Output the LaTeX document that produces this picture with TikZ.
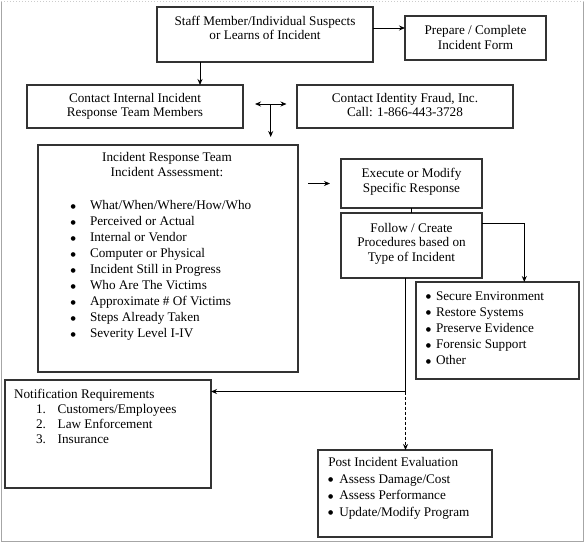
\documentclass[tikz,border=0pt]{standalone}
\usepackage{fontspec}
\setmainfont{Liberation Serif}
\newfontfamily\dvsans{DejaVu Sans}
\usetikzlibrary{arrows.meta}
\newcommand{\lns}[2]{\begin{tabular}[t]{@{}#1@{}}#2\end{tabular}}
\newcommand{\bul}[1]{\makebox[#1][l]{\raisebox{1.4pt}{\dvsans\fontsize{6}{6}\selectfont ●}}}
\begin{document}
\begin{tikzpicture}[x=1pt,y=-1pt,
  box/.style={draw=black!80, line width=1.1pt, inner sep=0pt, outer sep=0pt},
  tx/.style={inner sep=0pt, outer sep=0pt, font=\fontsize{13.2}{14.6}\selectfont},
  lst/.style={inner sep=0pt, outer sep=0pt, font=\fontsize{13.2}{16}\selectfont},
  conn/.style={line width=0.9pt, black},
  arr/.style={conn, -{Stealth[length=6pt,width=5pt]}},
  darr/.style={conn, {Stealth[length=6pt,width=5pt]}-{Stealth[length=6pt,width=5pt]}},
]
\useasboundingbox (0,0) rectangle (585,542);
% outer frame
\draw[gray!70, line width=1pt] (1,1) -- (1,541) -- (583.3,541) -- (583.3,1);
\draw[gray!40, dotted, line width=1pt] (1,1) -- (583.3,1);

% boxes
\node[box, minimum width=216pt, minimum height=55pt] (staff) at (265,34.5) {};
\node[box, minimum width=141pt, minimum height=44pt] (prepare) at (475.5,38) {};
\node[box, minimum width=216pt, minimum height=43pt] (internal) at (135,106.5) {};
\node[box, minimum width=216pt, minimum height=43pt] (identity) at (405,106.5) {};
\node[box, minimum width=260pt, minimum height=227pt] (irt) at (168,258.5) {};
\node[box, minimum width=141pt, minimum height=49pt] (exec) at (411.5,183.5) {};
\node[box, minimum width=141pt, minimum height=65pt] (follow) at (411.5,245.5) {};
\node[box, minimum width=163pt, minimum height=97pt] (secure) at (497.5,330.5) {};
\node[box, minimum width=206pt, minimum height=108pt] (notif) at (108,434) {};
\node[box, minimum width=174pt, minimum height=87pt] (post) at (405,493.5) {};

% texts
\node[tx, anchor=base] (staffT) at (265,25.2) {\lns{c}{Staff Member/Individual Suspects\\or Learns of Incident}};
\node[tx, anchor=base] (prepareT) at (475.5,34.5) {\lns{c}{Prepare / Complete\\Incident Form}};
\node[tx, anchor=base] (internalT) at (135,102) {\lns{c}{Contact Internal Incident\\Response Team Members}};
\node[tx, anchor=base] (identityT) at (405,102.2) {\lns{c}{Contact Identity Fraud, Inc.\\Call: 1-866-443-3728}};
\node[tx, font=\fontsize{13.2}{15}\selectfont, anchor=base] (irtT) at (167,161.8) {\lns{c}{Incident Response Team\\Incident Assessment:}};
\node[lst, anchor=base west] (irtL) at (70.5,209.5) {\lns{l}{%
\bul{19.5pt}What/When/Where/How/Who\\
\bul{19.5pt}Perceived or Actual\\
\bul{19.5pt}Internal or Vendor\\
\bul{19.5pt}Computer or Physical\\
\bul{19.5pt}Incident Still in Progress\\
\bul{19.5pt}Who Are The Victims\\
\bul{19.5pt}Approximate \# Of Victims\\
\bul{19.5pt}Steps Already Taken\\
\bul{19.5pt}Severity Level I-IV}};
\node[tx, font=\fontsize{13.2}{15.6}\selectfont, anchor=base] (execT) at (411.5,177.2) {\lns{c}{Execute or Modify\\Specific Response}};
\node[tx, anchor=base] (followT) at (411.5,232.2) {\lns{c}{Follow / Create\\Procedures based on\\Type of Incident}};
\node[lst, font=\fontsize{13.2}{16.1}\selectfont, anchor=base west] (secureL) at (425.8,300.2) {\lns{l}{%
\bul{10.2pt}Secure Environment\\
\bul{10.2pt}Restore Systems\\
\bul{10.2pt}Preserve Evidence\\
\bul{10.2pt}Forensic Support\\
\bul{10.2pt}Other}};
\node[tx, font=\fontsize{13.2}{15}\selectfont, anchor=base west] (notifT) at (14,398.5) {\lns{l}{%
Notification Requirements\\
\makebox[22pt][l]{}\makebox[21.7pt][l]{1.}Customers/Employees\\
\makebox[22pt][l]{}\makebox[21.7pt][l]{2.}Law Enforcement\\
\makebox[22pt][l]{}\makebox[21.7pt][l]{3.}Insurance}};
\node[tx, font=\fontsize{13.2}{16.5}\selectfont, anchor=base west] (postT) at (328,466.8) {\lns{l}{%
\hspace{0.3pt}Post Incident Evaluation\\
\bul{11.3pt}Assess Damage/Cost\\
\bul{11.3pt}Assess Performance\\
\bul{11.3pt}Update/Modify Program}};

% helper coordinates
\coordinate (yA) at (0,28);
\coordinate (xA) at (200,0);
\coordinate (dL) at (255,104);
\coordinate (dM) at (270.7,104);
\coordinate (dR) at (286.5,104);
\coordinate (dB) at (270.7,137);
\coordinate (yC) at (0,223.3);
\coordinate (xC) at (524.3,0);
\coordinate (xD) at (405.5,0);
\coordinate (yD) at (0,391.5);

% connectors
\draw[arr] (staff.east |- yA) -- (prepare.west |- yA);
\draw[arr] (staff.south -| xA) -- (internal.north -| xA);
\draw[darr] (dL) -- (dR);
\draw[arr] (dM) -- (dB);
\draw[arr] ([xshift=10pt]irt.east |- exec.west) -- ([xshift=-11pt]exec.west);
\draw[conn] (exec.south) -- (follow.north);
\draw[arr] (follow.east |- yC) -| (secure.north -| xC);
\draw[arr] (follow.south -| xD) |- (notif.east |- yD);
\draw[arr, dash pattern=on 3pt off 2pt] (xD |- yD) -- (post.north -| xD);
\end{tikzpicture}
\end{document}
